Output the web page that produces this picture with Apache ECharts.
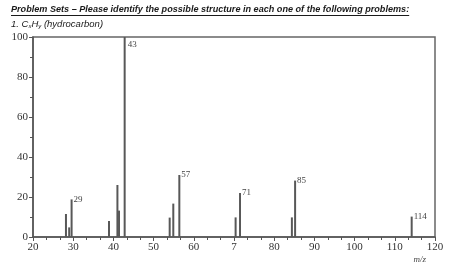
<!DOCTYPE html>
<html><head><meta charset="utf-8">
<script src="https://cdn.jsdelivr.net/npm/echarts@6/dist/echarts.min.js"></script>
<style>html,body{margin:0;padding:0;background:#fff}#c{width:474px;height:270px}</style>
</head><body><div id="c"></div>
<script>
var titleText = 'Problem Sets \u2013 Please identify the possible structure in each one of the following problems:';
var subtitleText = '1. C{sub|x}H{sub|y} (hydrocarbon)';
var xTicks = [20, 30, 40, 50, 60, 70, 80, 90, 100, 110, 120];
var xTickLabels = ['20', '30', '40', '50', '60', '7', '80', '90', '100', '110', '120'];
var yTicks = [0, 20, 40, 60, 80, 100];
var mz = [28.2, 29.0, 29.6, 38.9, 41.0, 41.4, 42.8, 54.0, 54.9, 56.4, 70.4, 71.5, 84.4, 85.2, 114.2];
var intensity = [11.5, 4.8, 18.8, 8, 26, 13.2, 100, 9.7, 16.7, 31, 9.8, 22, 9.8, 28.2, 10.2];
var peakLabels = ['', '', '29', '', '', '', '43', '', '', '57', '', '71', '', '85', '114'];

var cv = document.createElement('canvas').getContext('2d');
var titleFamily = '"Liberation Sans Narrow", "Liberation Sans", sans-serif';
cv.font = 'italic bold 10px ' + titleFamily;
var w10 = cv.measureText(titleText).width;
var titleSize = Math.round(10 * 397 / w10 * 10) / 10;
cv.font = 'italic bold ' + titleSize + 'px ' + titleFamily;
var titleW = cv.measureText(titleText).width;

var data = mz.map(function (x, i) {
  var item = { value: [x, intensity[i]] };
  if (peakLabels[i]) {
    item.label = { show: true, formatter: peakLabels[i],
      offset: intensity[i] >= 99 ? [3, 8] : [2, 0] };
  }
  return item;
});

var chart = echarts.init(document.getElementById('c'), null, { renderer: 'canvas' });
chart.setOption({
  animation: false,
  backgroundColor: '#fff',
  grid: { left: 33, right: 39, top: 37, bottom: 33, show: true, borderColor: '#666', borderWidth: 1.5, backgroundColor: 'transparent' },
  xAxis: {
    type: 'value', min: 20, max: 120, interval: 10,
    axisLine: { show: true, onZero: false, lineStyle: { color: '#555', width: 1.5 } },
    axisTick: { show: true, length: 4, lineStyle: { color: '#555' } },
    minorTick: { show: true, splitNumber: 3, length: 3, lineStyle: { color: '#555' } },
    splitLine: { show: false },
    axisLabel: { margin: 5, color: '#333', fontFamily: '"Liberation Serif", serif', fontSize: 11,
      formatter: function (v) { var k = xTicks.indexOf(v); return k >= 0 ? xTickLabels[k] : ''; } }
  },
  yAxis: {
    type: 'value', min: 0, max: 100, interval: 20,
    axisLine: { show: true, lineStyle: { color: '#555', width: 1.5 } },
    axisTick: { show: true, length: 4, lineStyle: { color: '#555' } },
    minorTick: { show: true, splitNumber: 2, length: 3, lineStyle: { color: '#555' } },
    splitLine: { show: false },
    axisLabel: { margin: 5, color: '#333', fontFamily: '"Liberation Serif", serif', fontSize: 11,
      formatter: function (v) { return yTicks.indexOf(v) >= 0 ? String(v) : ''; } }
  },
  series: [{
    type: 'bar', barWidth: 2, data: data,
    itemStyle: { color: '#585858' },
    label: { show: false, position: 'top', distance: 0, align: 'left', verticalAlign: 'middle',
      color: '#444', fontFamily: '"Liberation Serif", serif', fontSize: 9 }
  }],
  graphic: [
    { type: 'text', left: 11, top: 5, style: { text: titleText, font: 'italic bold ' + titleSize + 'px ' + titleFamily, fill: '#1a1a1a' } },
    { type: 'rect', left: 11, top: 15, shape: { width: titleW, height: 1 }, style: { fill: '#1a1a1a' } },
    { type: 'text', left: 11, top: 19, style: { text: subtitleText, font: 'italic 9.5px "Liberation Sans Narrow", "Liberation Sans", sans-serif', fill: '#1a1a1a',
      rich: { sub: { fontSize: 6, fontStyle: 'italic', verticalAlign: 'bottom', padding: [4, 0, 0, 0], fontFamily: '"Liberation Sans Narrow", "Liberation Sans", sans-serif' } } } },
    { type: 'text', right: 48, top: 255, style: { text: 'm/z', font: 'italic 9px "Liberation Serif", serif', fill: '#444' } }
  ]
});
</script></body></html>
